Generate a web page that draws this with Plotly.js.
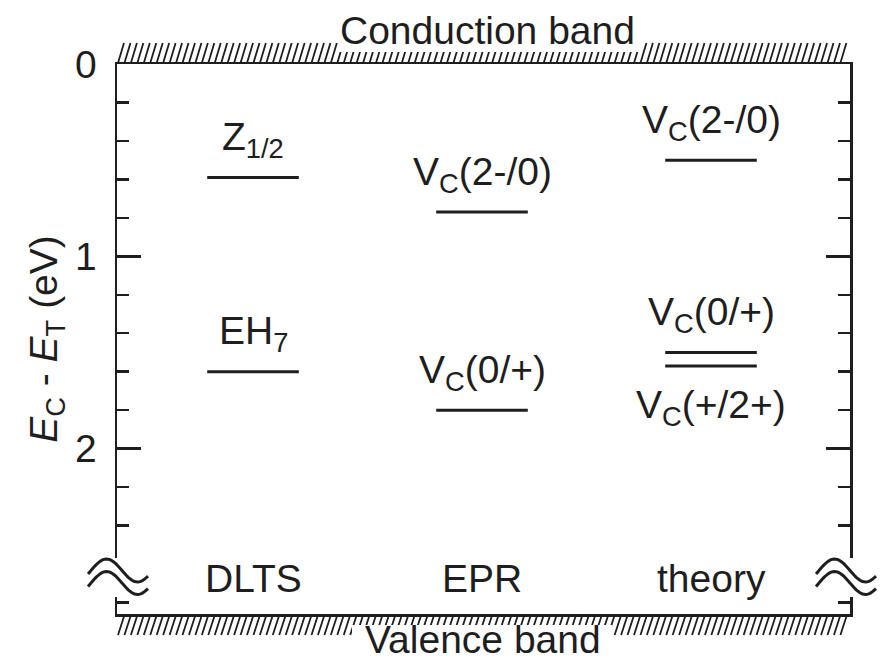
<!DOCTYPE html>
<html>
<head>
<meta charset="utf-8">
<script src="https://cdn.plot.ly/plotly-3.0.1.min.js"></script>
<style>html,body{margin:0;padding:0;background:#fff;}#chart{width:882px;height:662px;}</style>
</head>
<body>
<div id="chart"></div>
<script>
// ---- data ----
const categories = ['DLTS', 'EPR', 'theory'];
const levelColumn = [0, 0, 1, 1, 2, 2, 2];
const levelEnergy = [0.59, 1.60, 0.77, 1.80, 0.50, 1.50, 1.57];
const levelLabels = ['Z<sub>1/2</sub>', 'EH<sub>7</sub>', 'V<sub>C</sub>(2-/0)', 'V<sub>C</sub>(0/+)',
                     'V<sub>C</sub>(2-/0)', 'V<sub>C</sub>(0/+)', 'V<sub>C</sub>(+/2+)'];
const labelSide = ['above', 'above', 'above', 'above', 'above', 'above', 'below'];
const yTickVals = [0, 1, 2];
const yTickText = ['0', '1', '2'];
const topBandLabel = 'Conduction band';
const bottomBandLabel = 'Valence band';
const yTitle = '<i>E</i><sub>C</sub> - <i>E</i><sub>T</sub> (eV)';

// ---- style ----
const INK = '#1e1e1e';
const FONT = 'Liberation Sans, Arial, Helvetica, sans-serif';
const FS = 39;
const HALF = 0.2;
const M = {l: 117, r: 32, t: 64, b: 48};
const W = 882, H = 662;
const PW = W - M.l - M.r, PH = H - M.t - M.b;
const px = p => (p - M.l) / PW;          // pixel x -> paper
const py = p => (H - M.b - p) / PH;      // pixel y -> paper

// level lines
const lx = [], ly = [];
levelEnergy.forEach((e, i) => {
  const c = levelColumn[i];
  lx.push(c - HALF, c + HALF, null);
  ly.push(e, e, null);
});
const traces = [{
  type: 'scatter', mode: 'lines', x: lx, y: ly,
  line: {color: INK, width: 3}, hoverinfo: 'skip', showlegend: false
}];

// annotations
const annotations = [];
levelLabels.forEach((t, i) => {
  annotations.push({
    x: levelColumn[i], y: levelEnergy[i], xref: 'x', yref: 'y',
    text: t, showarrow: false, xanchor: 'center', yanchor: 'middle',
    yshift: labelSide[i] === 'above' ? 38 : -42,
    font: {family: FONT, size: FS, color: INK}
  });
});
categories.forEach((c, i) => {
  annotations.push({
    x: i, y: 2.675, xref: 'x', yref: 'y', text: c, showarrow: false,
    xanchor: 'center', yanchor: 'middle',
    font: {family: FONT, size: FS, color: INK}
  });
});
annotations.push({
  x: px(487.5), y: py(30), xref: 'paper', yref: 'paper', text: topBandLabel,
  showarrow: false, xanchor: 'center', yanchor: 'middle',
  font: {family: FONT, size: FS, color: INK}
});
annotations.push({
  x: px(483), y: py(662), xref: 'paper', yref: 'paper', text: bottomBandLabel,
  showarrow: false, xanchor: 'center', yanchor: 'bottom', borderpad: 0,
  font: {family: FONT, size: FS, color: INK}
});

// decorative shapes: hatching, band breaks
const shapes = [];
let hatchTop = '';
for (let x = 118; x <= 846; x += 6.45) {
  hatchTop += `M${px(x)},${py(63)}L${px(x + 6)},${py(43)}`;
}
let hatchBot = '';
for (let x = 118; x <= 845; x += 6.45) {
  hatchBot += `M${px(x)},${py(635)}L${px(x + 6.5)},${py(615)}`;
}
shapes.push({type: 'path', xref: 'paper', yref: 'paper', path: hatchTop, line: {color: INK, width: 1.8}, layer: 'above'});
shapes.push({type: 'path', xref: 'paper', yref: 'paper', path: hatchBot, line: {color: INK, width: 1.8}, layer: 'above'});
// white cut-outs where text interrupts hatching
shapes.push({type: 'rect', xref: 'paper', yref: 'paper', x0: px(339), x1: px(642), y0: py(52), y1: py(40), fillcolor: '#fff', line: {width: 0}, layer: 'above'});
shapes.push({type: 'rect', xref: 'paper', yref: 'paper', x0: px(352), x1: px(612), y0: py(638), y1: py(625), fillcolor: '#fff', line: {width: 0}, layer: 'above'});
// axis breaks
function breakMark(cx, rx0, rx1) {
  shapes.push({type: 'rect', xref: 'paper', yref: 'paper', x0: px(rx0), x1: px(rx1), y0: py(597), y1: py(558), fillcolor: '#fff', line: {width: 0}, layer: 'above'});
  [570.5, 583].forEach(cy => {
    let p = '';
    for (let t = -30; t <= 30; t += 2) {
      const yy = cy + 11.5 * Math.sin(2 * Math.PI * (t - 4) / 62);
      p += (t === -30 ? 'M' : 'L') + px(cx + t) + ',' + py(yy);
    }
    shapes.push({type: 'path', xref: 'paper', yref: 'paper', path: p, line: {color: INK, width: 3}, layer: 'above'});
  });
}
breakMark(118, 110, 131);
breakMark(846, 836, 858);

const layout = {
  width: W, height: H,
  margin: M,
  paper_bgcolor: '#fff', plot_bgcolor: '#fff',
  font: {family: FONT, size: FS, color: INK},
  showlegend: false,
  xaxis: {
    range: [-0.594, 2.607], showline: true, mirror: true, linewidth: 2.5, linecolor: INK,
    showticklabels: false, ticks: '', showgrid: false, zeroline: false, fixedrange: true
  },
  yaxis: {
    range: [2.86, 0], tickmode: 'array', tickvals: yTickVals, ticktext: yTickText,
    ticks: 'inside', ticklen: 24, tickwidth: 2.5, tickcolor: INK,
    minor: {dtick: 0.2, tick0: 0, ticks: 'inside', ticklen: 12, tickwidth: 2.5, tickcolor: INK, showgrid: false},
    showline: true, mirror: 'ticks', linewidth: 2.5, linecolor: INK,
    showgrid: false, zeroline: false, ticklabelstandoff: 10,
    tickfont: {family: FONT, size: 39, color: INK},
    title: {text: yTitle, font: {family: FONT, size: FS, color: INK}, standoff: 6},
    fixedrange: true
  },
  annotations: annotations,
  shapes: shapes
};

Plotly.newPlot('chart', traces, layout, {displayModeBar: false, staticPlot: true});
</script>
</body>
</html>
